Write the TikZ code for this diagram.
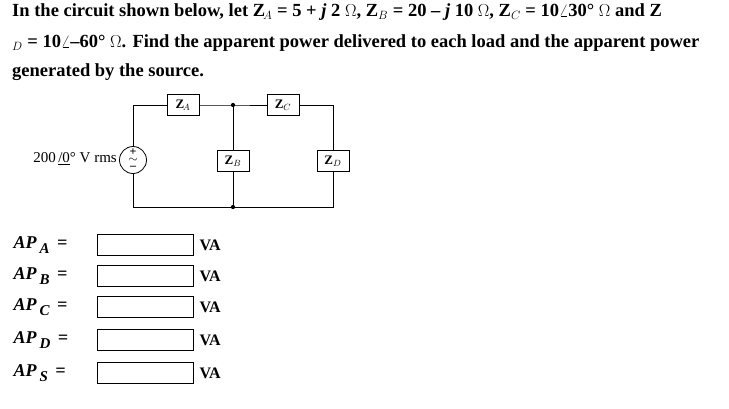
\documentclass[tikz,border=0pt]{standalone}
\usepackage{fontspec}
\setmainfont{Liberation Serif}
\begin{document}
\begin{tikzpicture}[x=1pt,y=-1pt,
  imp/.style={draw,thick,minimum width=32pt,minimum height=21pt,inner sep=0pt,font=\fontsize{13}{14}\selectfont\bfseries},
  ans/.style={draw,minimum width=96pt,minimum height=21pt,inner sep=0pt},
  lbl/.style={anchor=west,font=\fontsize{18}{19}\selectfont\bfseries\itshape},
  va/.style={anchor=west,font=\fontsize{16}{17}\selectfont\bfseries},
  txt/.style={anchor=west,font=\fontsize{18.5}{20}\selectfont\bfseries,inner sep=0pt},
  dot/.style={circle,fill,inner sep=1.5pt}]
\useasboundingbox (0,0) rectangle (729,408);
\node[txt] (t1) at (12,12) {In the circuit shown below, let Z$_{\!A}$ = 5 + \textit{j} 2 $\Omega$, Z$_B$ = 20 -- \textit{j} 10 $\Omega$, Z$_C$ = 10$\angle$30° $\Omega$ and Z};
\node[txt] (t2) at (12,43) {$_D$ = 10$\angle$--60° $\Omega$. Find the apparent power delivered to each load and the apparent power};
\node[txt] (t3) at (12,72) {generated by the source.};
% circuit
\coordinate (tl) at (133,105);
\coordinate (bl) at (133,207);
\coordinate (tj) at (233,105);
\coordinate (bj) at (233,207);
\coordinate (tr) at (333,105);
\coordinate (br) at (333,207);
\node[draw,thick,circle,minimum size=27pt,inner sep=0pt] (src) at (133,160) {};
\node[font=\fontsize{12}{12}\selectfont\bfseries,inner sep=0pt] at (133,152.5) {+};
\node[font=\fontsize{12}{12}\selectfont,inner sep=0pt] at (133,160.5) {$\sim$};
\node[font=\fontsize{12}{12}\selectfont\bfseries,inner sep=0pt] at (133,167.5) {--};
\node[imp] (za) at (183,105) {Z$_{\!A}$};
\node[imp] (zc) at (283,105) {Z$_C$};
\node[imp] (zb) at (233,161) {Z$_B$};
\node[imp] (zd) at (333,161) {Z$_D$};
\draw[thick] (src.north) -- (tl) -- (za.west);
\draw[thick] (za.east) -- (tj) -- (zc.west);
\draw[thick] (zc.east) -- (tr) -- (zd.north);
\draw[thick] (zd.south) -- (br) -- (bl) -- (src.south);
\draw[thick] (tj) -- (zb.north);
\draw[thick] (zb.south) -- (bj);
\node[dot] at (tj) {};
\node[dot] at (bj) {};
\node[anchor=east,font=\fontsize{15}{16}\selectfont,inner sep=0pt] (sl) at (117,159) {200\,\underline{/0}° V rms};
% answers
\foreach \n/\y/\s in {1/245/A,2/276/B,3/307/C,4/340/D,5/373/S}{
  \node[lbl] (l\n) at (10,\y) {AP\,\raisebox{-5pt}{\fontsize{15}{15}\selectfont\s}\, =};
  \node[ans] (b\n) at (145,\y) {};
  \node[va] (v\n) at (196,\y) {VA};
}
\end{tikzpicture}
\end{document}
